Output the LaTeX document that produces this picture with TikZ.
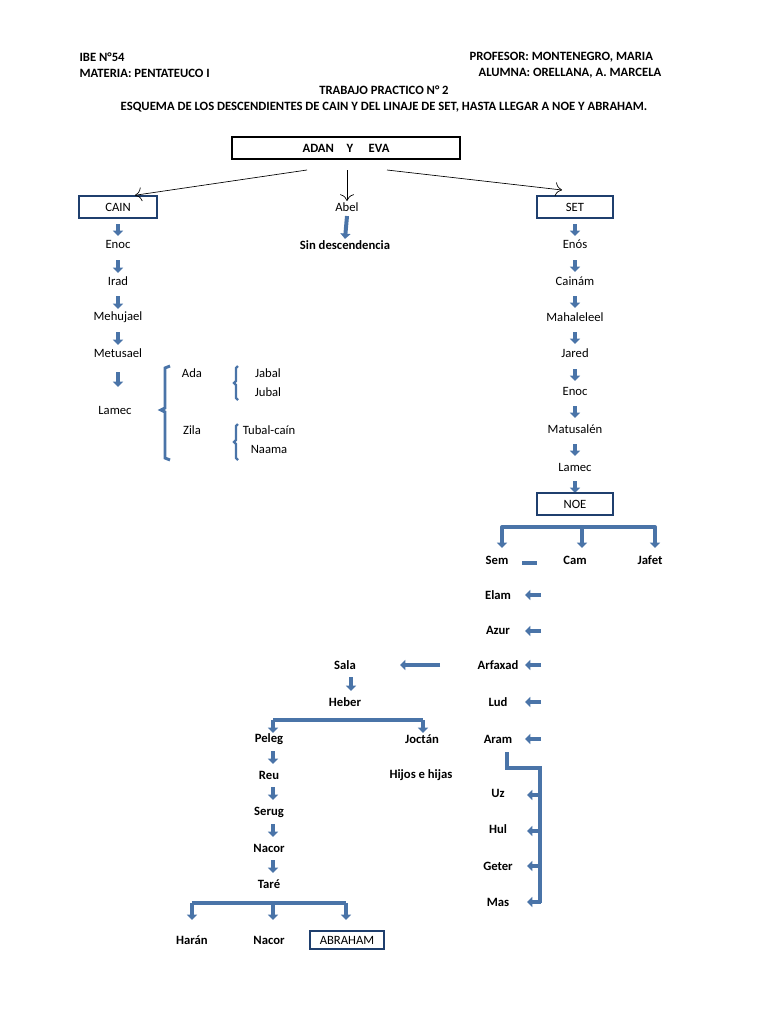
\documentclass[tikz,border=0pt]{standalone}
\usepackage{fontspec}
\setmainfont{Carlito}
\usetikzlibrary{arrows.meta}
\definecolor{bl}{HTML}{4A74A8}
\definecolor{dk}{HTML}{1F3F6E}
\begin{document}
\begin{tikzpicture}[x=0.75pt,y=-0.75pt,font=\fontsize{9.5}{11}\selectfont,
 t/.style={inner sep=1pt},
 b/.style={font=\fontsize{9.5}{11}\selectfont\bfseries,inner sep=1pt},
 bx/.style={draw=dk,line width=1.6pt,minimum height=16pt,inner sep=0pt},
 da/.style={bl,line width=3pt,-{Triangle[length=4pt,width=7.5pt]}},
 ln/.style={bl,line width=3pt},
 th/.style={-{To[length=5pt]},line width=0.5pt}]
\useasboundingbox (0,0) rectangle (768,1024);
\node[b,anchor=west] (h1) at (78,57) {IBE N°54};
\node[b,anchor=west] (h2) at (468,57) {PROFESOR: MONTENEGRO, MARIA};
\node[b,anchor=west] (h3) at (78,73) {MATERIA: PENTATEUCO I};
\node[b,anchor=west] (h4) at (477,73) {ALUMNA: ORELLANA, A. MARCELA};
\node[b] (h5) at (384,90) {TRABAJO PRACTICO N° 2};
\node[b] (h6) at (384,107) {ESQUEMA DE LOS DESCENDIENTES DE CAIN Y DEL LINAJE DE SET, HASTA LLEGAR A NOE Y ABRAHAM.};
\node[bx,draw=black,line width=1.4pt,minimum width=171pt,minimum height=17pt,font=\fontsize{9.5}{11}\selectfont\bfseries] (ae) at (346,148) {ADAN\quad Y\quad\ EVA};
\node[bx,minimum width=58pt] (cain) at (118,207) {CAIN};
\node[bx,minimum width=57pt] (set) at (575,207) {SET};
\node[t] (abel) at (347,207) {Abel};
\coordinate (a1) at (307,170); \coordinate (a2) at (347,170); \coordinate (a3) at (387,170);
\draw[th] (a1) -- (cain.north east -| 135,187);
\draw[th] (a2) -- (abel.north);
\draw[th] (a3) -- (562,190);
\node[b] (sin) at (345,245) {Sin descendencia};
\draw[da] (abel.south) ++(0,3) coordinate (ab1) -- (sin.north);
% left column
\foreach \n/\y/\s in {enoc/244/Enoc,irad/281/Irad,meh/317/Mehujael,met/353/Metusael}{\node[t] (\n) at (118,\y) {\s};}
\node[t] (lam) at (115,410) {Lamec};
\draw[da] (118,224) -- (118,236);
\draw[da] (118,260) -- (118,273);
\draw[da] (118,296) -- (118,309);
\draw[da] (118,332) -- (118,345);
\draw[da] (118,372) -- (118,387);
\draw[bl,line width=2.2pt] (170,366) -- (165,368) -- (165,408) -- (161,410) -- (165,412) -- (165,458) -- (170,460);
\draw[bl,line width=1.6pt] (238,366) -- (236,368) -- (236,381) -- (234,383) -- (236,385) -- (236,398) -- (238,400);
\draw[bl,line width=1.6pt] (238,424) -- (236,426) -- (236,440) -- (234,442) -- (236,444) -- (236,458) -- (238,460);
\node[t] (ada) at (192,373) {Ada};
\node[t] (zila) at (192,430) {Zila};
\node[t] (jab) at (268,373) {Jabal};
\node[t] (jub) at (268,392) {Jubal};
\node[t] (tub) at (269,430) {Tubal-caín};
\node[t] (naa) at (269,449) {Naama};
% right column
\foreach \n/\y/\s in {enos/244/Enós,cai/281/Cainám,mah/317/Mahaleleel,jar/353/Jared,eno/391/Enoc,mat/429/Matusalén,lm/467/Lamec}{\node[t] (\n) at (575,\y) {\s};}
\foreach \y in {224,260,296,332,369,406,444,481}{\draw[da] (575,\y) -- (575,\y+12);}
\node[bx,minimum width=57pt] (noe) at (575,504) {NOE};
\draw[ln,line cap=round] (502,527) -- (655,527);
\foreach \x in {502,582,655}{\draw[da] (\x,527) -- (\x,548);}
\node[b] (sem) at (497,560) {Sem};
\node[b] (cam) at (575,560) {Cam};
\node[b] (jaf) at (650,560) {Jafet};
\draw[bl,line width=2.5pt] (522,563) -- (537,563);
\foreach \n/\y/\s in {elam/595/Elam,azur/630/Azur,arf/665/Arfaxad,lud/702/Lud,aram/739/Aram,uz/793/Uz,hul/829/Hul,get/866/Geter,mas/902/Mas}{\node[b] (\n) at (498,\y) {\s};}
\foreach \y in {595,631,665,702,739}{\draw[da] (541,\y) -- (525,\y);}
\draw[ln] (507,752) -- (507,768) -- (540,768) -- (540,903);
\foreach \y in {795,831,866,902}{\draw[da] (541,\y) -- (527,\y);}
% Sala branch
\node[b] (sala) at (345,665) {Sala};
\draw[da] (440,665) -- (400,665);
\node[b] (heb) at (345,702) {Heber};
\draw[da] (351,677) -- (351,691);
\draw[ln] (273,720) -- (423,720);
\draw[da] (273,720) -- (273,733);
\draw[da] (423,720) -- (423,733);
\node[b] (pel) at (269,739) {Peleg};
\node[b] (joc) at (422,739) {Joctán};
\node[b] (hij) at (421,775) {Hijos e hijas};
\foreach \n/\y/\s in {reu/775/Reu,ser/812/Serug,nac/848/Nacor,tar/884/Taré}{\node[b] (\n) at (269,\y) {\s};}
\foreach \y in {751,787,824,860}{\draw[da] (273,\y) -- (273,\y+13);}
\draw[ln] (192,903) -- (346,903);
\foreach \x in {192,273,346}{\draw[da] (\x,903) -- (\x,920);}
\node[b] (har) at (192,940) {Harán};
\node[b] (nac2) at (269,940) {Nacor};
\node[bx,minimum width=56pt,minimum height=14pt] (abr) at (347,940) {ABRAHAM};
\end{tikzpicture}
\end{document}
